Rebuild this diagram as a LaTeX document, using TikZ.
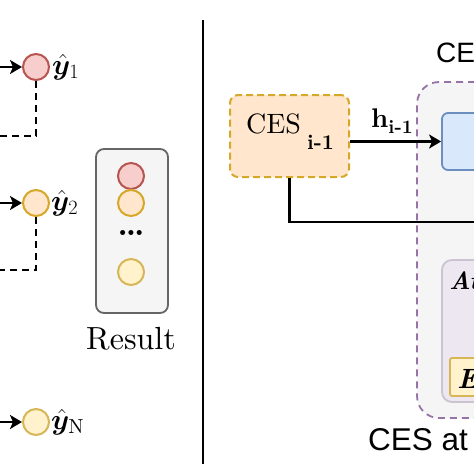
\documentclass[tikz,border=0pt]{standalone}
\usepackage{fix-cm}
\usepackage{fontspec}
\setmainfont{lmroman10}[Extension=.otf, UprightFont=*-regular, BoldFont=*-bold,
  ItalicFont=*-italic, BoldItalicFont=*-bolditalic]
\newfontfamily\helv{Liberation Sans}
\usepackage{bm}
\usetikzlibrary{arrows.meta,positioning}

\definecolor{redfill}{HTML}{F8CECC}
\definecolor{redline}{HTML}{B85450}
\definecolor{peachfill}{HTML}{FFE6CC}
\definecolor{goldline}{HTML}{D6A829}
\definecolor{paleyellow}{HTML}{FFF2CC}
\definecolor{yellowline}{HTML}{D6B656}
\definecolor{boxgray}{HTML}{F5F5F5}
\definecolor{boxline}{HTML}{666666}
\definecolor{purpleline}{HTML}{9673A6}
\definecolor{bluefill}{HTML}{DAE8FC}
\definecolor{blueline}{HTML}{6C8EBF}
\definecolor{attfill}{HTML}{ECE7F0}
\definecolor{attline}{HTML}{CCC3D1}

\tikzset{
  outcirc/.style={circle, line width=2pt, minimum size=26pt, inner sep=0pt},
  redcirc/.style={outcirc, draw=redline, fill=redfill},
  peachcirc/.style={outcirc, draw=goldline, fill=peachfill},
  palecirc/.style={outcirc, draw=yellowline, fill=paleyellow},
  flow/.style={line width=2.2pt, -{Stealth[length=12pt,width=14pt,inset=3pt]}},
  back/.style={line width=2.2pt, dash pattern=on 7pt off 5pt},
  ylabel/.style={inner sep=0pt, font=\fontsize{29}{29}\selectfont},
  txt/.style={inner sep=0pt, anchor=base west},
}

\begin{document}
\begin{tikzpicture}[x=1pt,y=-1pt]
  \useasboundingbox (0,0) rectangle (474,474);
  \clip (0,0) rectangle (474,474);

  % outputs of the left part
  \node[redcirc] (y1) at (36,67) {};
  \node[peachcirc] (y2) at (36,203) {};
  \node[palecirc] (yN) at (36,422) {};
  \node[ylabel, right=2pt of y1] (y1lab) {$\bm{\hat{y}}_1$};
  \node[ylabel, right=1pt of y2] (y2lab) {$\bm{\hat{y}}_2$};
  \node[ylabel, right=1pt of yN] (yNlab) {$\bm{\hat{y}}_{\mathrm{N}}$};
  \coordinate (in1) at (0,67);
  \coordinate (in2) at (0,203);
  \coordinate (inN) at (0,422);
  \coordinate (back1) at (0,136);
  \coordinate (back2) at (0,270);
  \draw[flow] (in1) -- (y1);
  \draw[flow] (in2) -- (y2);
  \draw[flow] (inN) -- (yN);
  \draw[back] (y1) |- (back1);
  \draw[back] (y2) |- (back2);

  % result box
  \node[draw=boxline, fill=boxgray, line width=1.8pt, rounded corners=8pt,
        minimum width=72pt, minimum height=164pt] (result) at (132,231) {};
  \node[redcirc] (r1) at (131,176) {};
  \node[peachcirc] (r2) at (131,203) {};
  \node[inner sep=0pt, font=\fontsize{32}{32}\selectfont] (rdots) at (131,233) {\textbf{\ldots}};
  \node[palecirc] (r3) at (131,272) {};
  \node[inner sep=0pt, font=\fontsize{32}{32}\selectfont] (resultlab) at (131,339) {Result};

  \draw[line width=2pt] (203,20) -- (203,464);

  % CES at step i
  \node[draw=purpleline, fill=boxgray, dash pattern=on 7pt off 5pt, line width=1.8pt,
        rounded corners=22pt, minimum width=200pt, minimum height=336pt] (step) at (517,250) {};
  \node[draw=blueline, fill=bluefill, line width=1.8pt, rounded corners=6pt,
        minimum width=150pt, minimum height=57pt] (enc) at (517,141.5) {};
  \node[draw=attline, fill=attfill, line width=1.8pt, rounded corners=10pt,
        minimum width=150pt, minimum height=142pt] (att) at (517,331) {};
  \node[txt, font=\fontsize{25}{25}\selectfont] (attlab) at (449,289) {\textbf{\textit{At}}};
  \node[draw=yellowline, fill=paleyellow, line width=1.8pt, rounded corners=2pt,
        minimum width=100pt, minimum height=38pt] (emb) at (500,377) {};
  \node[txt, font=\fontsize{28}{28}\selectfont] (emblab) at (457,388) {\textbf{\textit{E}}};
  \node[txt, font=\helv\fontsize{28}{28}\selectfont] (steptop) at (436,62) {CES};
  \node[txt, font=\helv\fontsize{31.5}{31.5}\selectfont] (stepbot) at (368,450) {CES at};

  % previous step
  \node[draw=goldline, fill=peachfill, dash pattern=on 7pt off 4pt, line width=2pt,
        rounded corners=8pt, minimum width=119pt, minimum height=82pt] (prev) at (289.5,136) {};
  \node[txt, font=\fontsize{28}{28}\selectfont] (prevlab) at (246,133)
        {CES\hspace{6pt}\raisebox{-16pt}{\fontsize{21}{21}\selectfont\bfseries i-1}};

  \coordinate (skip) at (480,222);
  \draw[line width=2.2pt] (prev.south) |- (skip);
  \draw[flow] (prev.east |- enc.west) -- (enc.west);
  \node[txt, font=\fontsize{27}{27}\selectfont] (hlab) at (371,127)
        {$\mathbf{h}$\raisebox{-6pt}{\fontsize{19}{19}\selectfont\bfseries i-1}};
\end{tikzpicture}
\end{document}
